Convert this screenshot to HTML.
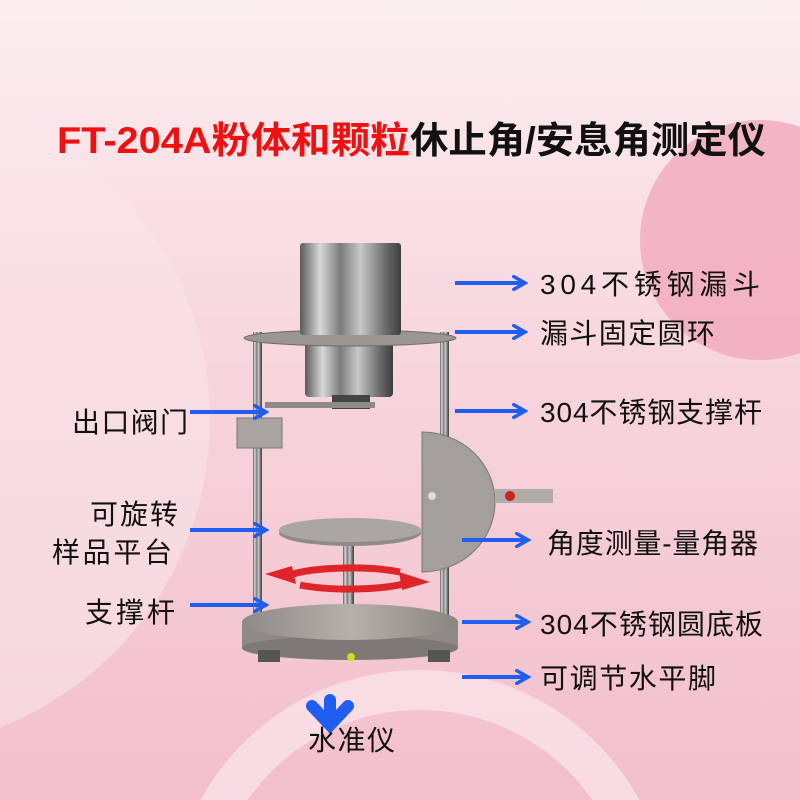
<!DOCTYPE html>
<html><head><meta charset="utf-8"><style>
html,body{margin:0;padding:0;width:800px;height:800px;overflow:hidden;position:relative}
svg{display:block;position:absolute;left:0;top:0}
text{font-family:"Liberation Sans","Noto Sans CJK SC",sans-serif}
</style></head><body>
<svg width="800" height="800" viewBox="0 0 800 800" xmlns="http://www.w3.org/2000/svg">
<defs>
<linearGradient id="bg" x1="0" y1="0" x2="0" y2="1">
<stop offset="0" stop-color="#fbeef1"/><stop offset="0.5" stop-color="#f7d3db"/><stop offset="1" stop-color="#f2bfcb"/>
</linearGradient>
<linearGradient id="steel" x1="0" y1="0" x2="1" y2="0">
<stop offset="0" stop-color="#5a5a5a"/><stop offset="0.2" stop-color="#d8d8d8"/><stop offset="0.4" stop-color="#7b7b7b"/><stop offset="0.6" stop-color="#c8c8c8"/><stop offset="0.85" stop-color="#6a6a6a"/><stop offset="1" stop-color="#3e3e3e"/>
</linearGradient>
<linearGradient id="plate" x1="0" y1="0" x2="1" y2="0">
<stop offset="0" stop-color="#8d8985"/><stop offset="0.5" stop-color="#b5b0aa"/><stop offset="1" stop-color="#8a8580"/>
</linearGradient>
<marker id="ah" viewBox="0 0 10 10" refX="8" refY="5" markerWidth="4" markerHeight="4" orient="auto"><path d="M1,1 L8,5 L1,9" fill="none" stroke="#1f5ef0" stroke-width="2.2" stroke-linecap="round"/></marker>
</defs>
<rect width="800" height="800" fill="url(#bg)"/>
<circle cx="760" cy="240" r="120" fill="#f1a9bb" opacity="0.8"/>
<circle cx="-120" cy="420" r="330" fill="#f9e4e9" opacity="0.6"/>
<circle cx="420" cy="920" r="230" fill="none" stroke="#fbe7ec" stroke-width="40" opacity="0.7"/>

<text x="57" y="153" font-size="37" font-weight="bold" fill="#ee1111" textLength="353" lengthAdjust="spacingAndGlyphs">FT-204A粉体和颗粒</text>
<text x="410" y="153" font-size="37" font-weight="bold" fill="#111" textLength="356" lengthAdjust="spacingAndGlyphs">休止角/安息角测定仪</text>

<rect x="253" y="332" width="9" height="300" fill="url(#steel)"/>
<rect x="440" y="332" width="9" height="300" fill="url(#steel)"/>
<rect x="305" y="335" width="88" height="62" rx="4" fill="url(#steel)"/>
<rect x="332" y="395" width="38" height="14" fill="#444"/>
<ellipse cx="350" cy="338" rx="106" ry="8" fill="#9a9692" stroke="#6f6b67"/>
<rect x="300" y="243" width="101" height="92" rx="3" fill="url(#steel)"/>
<rect x="265" y="402" width="110" height="6" fill="#8e8a86"/>
<rect x="237" y="418" width="45" height="30" fill="#a8a4a0" stroke="#777"/>
<rect x="343" y="538" width="11" height="85" fill="url(#steel)"/>
<ellipse cx="350" cy="533" rx="71" ry="13" fill="#8f8b87"/>
<ellipse cx="350" cy="530" rx="71" ry="12" fill="#aaa6a1"/>
<rect x="242" y="622" width="216" height="26" fill="#8e8a86"/>
<ellipse cx="350" cy="648" rx="108" ry="12" fill="#7d7975"/>
<ellipse cx="350" cy="622" rx="108" ry="18" fill="url(#plate)"/>
<rect x="258" y="650" width="22" height="12" fill="#555"/>
<rect x="428" y="650" width="22" height="12" fill="#555"/>
<circle cx="351" cy="657" r="4" fill="#cde01a"/>
<path d="M422,432 A73,70 0 0 1 422,572 Z" fill="#a39f9a" stroke="#777"/>
<rect x="495" y="489" width="58" height="14" fill="#b0aca6"/>
<circle cx="510" cy="496" r="5" fill="#d02020"/>
<circle cx="432" cy="496" r="4" fill="#ddd"/>
<path d="M290,575 A70,14 0 0 1 400,572" fill="none" stroke="#e0252a" stroke-width="7"/>
<path d="M410,582 A70,14 0 0 1 300,585" fill="none" stroke="#e0252a" stroke-width="7"/>
<path d="M265,574 L292,566 L296,584 Z" fill="#e0252a"/>
<path d="M430,582 L402,590 L399,572 Z" fill="#e0252a"/>

<g stroke="#1f5ef0" stroke-width="4" marker-end="url(#ah)">
<line x1="455" y1="283" x2="525" y2="283"/>
<line x1="455" y1="332" x2="525" y2="332"/>
<line x1="455" y1="411" x2="525" y2="411"/>
<line x1="462" y1="540" x2="528" y2="540"/>
<line x1="462" y1="622" x2="528" y2="622"/>
<line x1="462" y1="677" x2="528" y2="677"/>
<line x1="190" y1="412" x2="266" y2="412"/>
<line x1="190" y1="530" x2="266" y2="530"/>
<line x1="190" y1="605" x2="266" y2="605"/>
</g>
<path d="M330,700 L330,725 M312,706 L330,725 L348,706" fill="none" stroke="#1f5ef0" stroke-width="12" stroke-linecap="round"/>

<g font-size="28" fill="#111" lengthAdjust="spacingAndGlyphs">
<text x="540" y="294" textLength="220">304不锈钢漏斗</text>
<text x="540" y="343" textLength="175">漏斗固定圆环</text>
<text x="540" y="422" textLength="222">304不锈钢支撑杆</text>
<text x="547" y="553" textLength="211">角度测量-量角器</text>
<text x="540" y="634" textLength="223">304不锈钢圆底板</text>
<text x="540" y="688" textLength="176">可调节水平脚</text>
<text x="72" y="432" textLength="116">出口阀门</text>
<text x="90" y="524" textLength="88">可旋转</text>
<text x="52" y="562" textLength="120">样品平台</text>
<text x="85" y="622" textLength="90">支撑杆</text>
<text x="308" y="750" textLength="87">水准仪</text>
</g>
</svg>
</body></html>
